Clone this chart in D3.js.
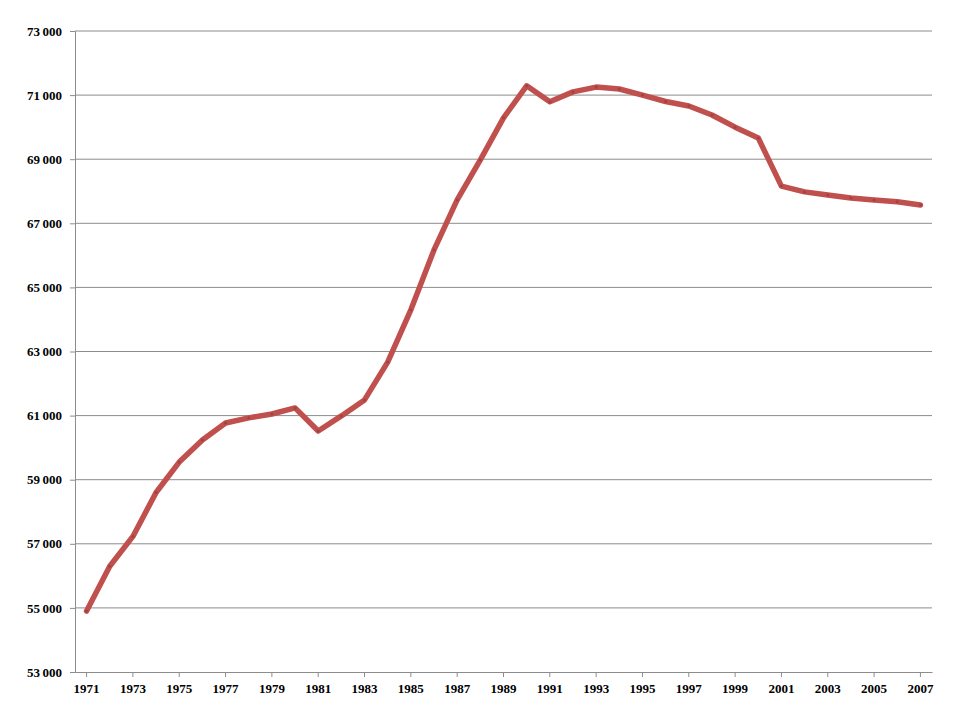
<!DOCTYPE html>
<html><head><meta charset="utf-8">
<script src="https://cdn.jsdelivr.net/npm/d3@7"></script>
<style>body{margin:0;background:#fff}</style></head><body>
<svg id="c" width="960" height="720"></svg>
<script>
const years = d3.range(1971, 2008);
const values = [54900,56300,57230,58600,59550,60240,60770,60930,61050,61240,60520,60990,61490,62670,64300,66170,67730,68980,70290,71290,70790,71100,71250,71190,71000,70800,70660,70380,70000,69660,68160,67980,67880,67790,67730,67670,67570];
const yTicks = [53000,55000,57000,59000,61000,63000,65000,67000,69000,71000,73000];
const xLabels = years.filter((y,i)=>i%2===0);

const svg = d3.select("#c");
const L=75,R=932,T=31,B=672;
const x = d3.scaleBand().domain(years).range([L,R]);
const y = d3.scaleLinear().domain([53000,73000]).range([B,T]);
const font = "'Liberation Serif', serif";
const fmt = v => d3.format(",")(v).replace(",", "\u2009");

svg.append("g").selectAll("line").data(yTicks.slice(1)).join("line")
  .attr("x1",L).attr("x2",R).attr("y1",d=>y(d)).attr("y2",d=>y(d))
  .attr("stroke","#8c8c8c").attr("stroke-width",1);

const ya = svg.append("g").attr("transform",`translate(${L},0)`)
  .call(d3.axisLeft(y).tickValues(yTicks).tickFormat(fmt).tickSize(5));
ya.select(".domain").attr("stroke","#8c8c8c");
ya.selectAll(".tick line").attr("stroke","#8c8c8c");
ya.selectAll("text").attr("font-family",font).attr("font-weight","bold").attr("font-size",13).attr("x",-13);

const xa = svg.append("g").attr("transform",`translate(0,${B})`)
  .call(d3.axisBottom(x).tickValues(xLabels).tickSize(5).tickSizeOuter(0));
xa.select(".domain").attr("stroke","#8c8c8c");
xa.selectAll(".tick line").attr("stroke","#8c8c8c");
xa.selectAll("text").attr("font-family",font).attr("font-weight","bold").attr("font-size",13).attr("dy","1em");

const data = years.map((yr,i)=>({yr,v:values[i]}));
const line = d3.line().x(d=>x(d.yr)+x.bandwidth()/2).y(d=>y(d.v));
svg.append("path").datum(data).attr("d",line).attr("fill","none")
  .attr("stroke","#c0504d").attr("stroke-width",5.5).attr("stroke-linejoin","round").attr("stroke-linecap","round");
svg.append("g").selectAll("circle").data(data).join("circle")
  .attr("cx",d=>x(d.yr)+x.bandwidth()/2).attr("cy",d=>y(d.v)).attr("r",1.5).attr("fill","#8a3a38").attr("opacity",0.6);
</script></body></html>
